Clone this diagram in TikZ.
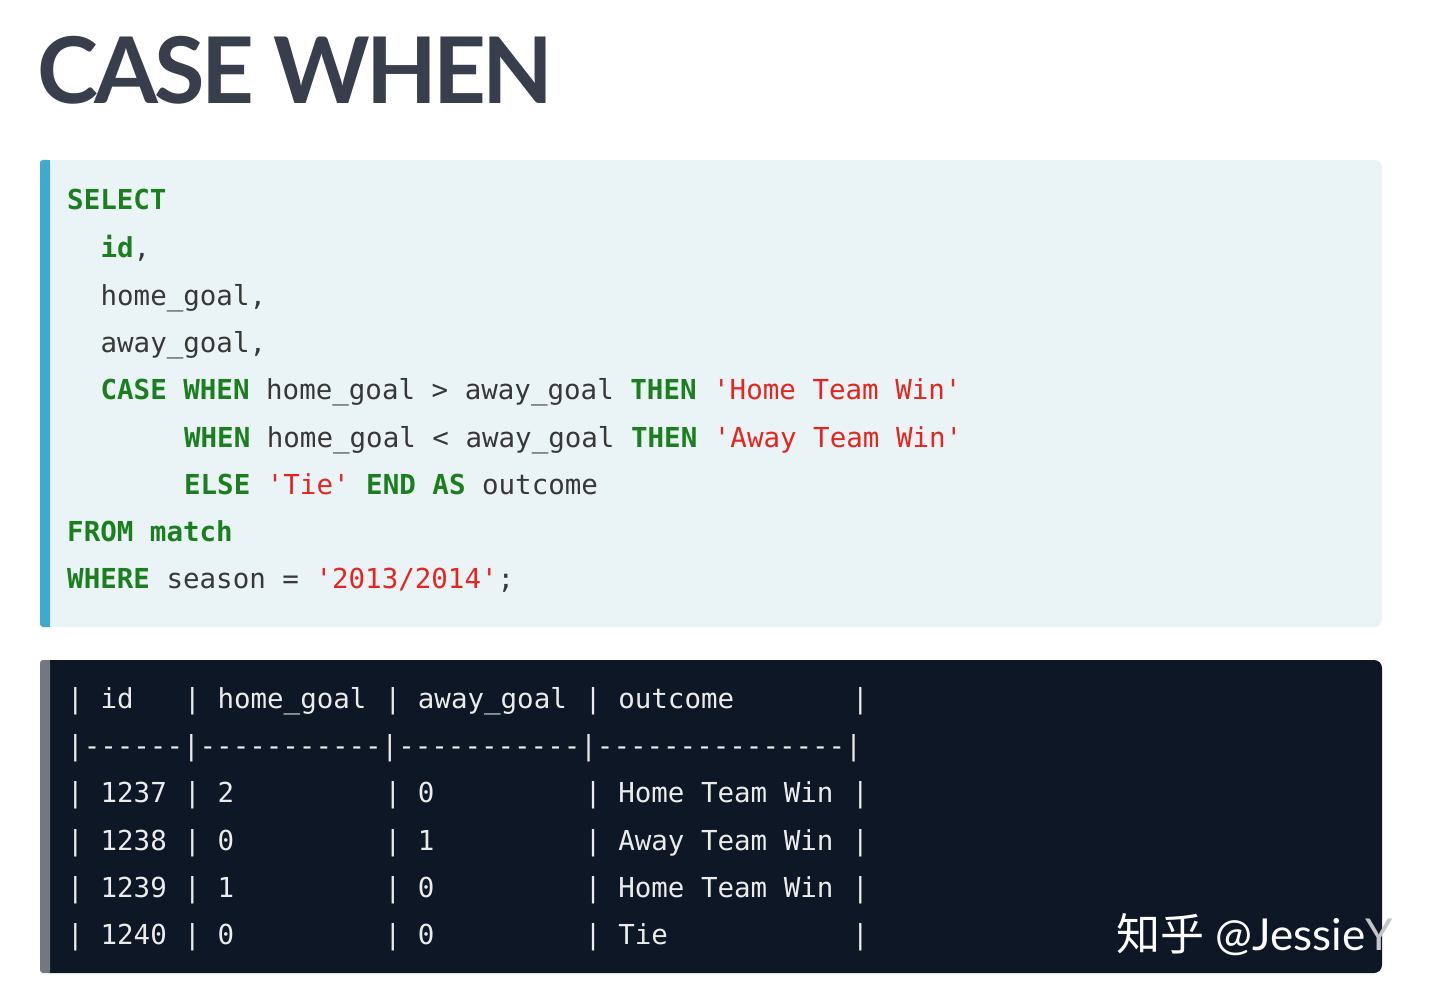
\documentclass[tikz,border=0pt]{standalone}
\usepackage{fontspec}
\setmainfont{Lato}
\setmonofont{DejaVu Sans Mono}
\newfontfamily\cjk{Noto Sans CJK SC}
\definecolor{kw}{HTML}{1B7F1F}
\definecolor{st}{HTML}{E3261F}
\definecolor{tx}{HTML}{383838}
\definecolor{ttl}{HTML}{383E4C}
\definecolor{codebg}{HTML}{EAF3F6}
\definecolor{codebar}{HTML}{41A9CB}
\definecolor{darkbg}{HTML}{0E1726}
\definecolor{darkbar}{HTML}{737880}
\newcommand{\K}[1]{\textcolor{kw}{\bfseries #1}}
\newcommand{\Str}[1]{\textcolor{st}{#1}}
\tikzset{codeln/.style={anchor=base west,inner sep=0pt,font=\fontsize{27.5}{30}\ttfamily,text=tx},
tabln/.style={codeln,text=white!92!black}}
\begin{document}
\begin{tikzpicture}[x=1pt,y=-1pt]
\useasboundingbox (0,0) rectangle (1440,995);
\fill[white] (0,0) rectangle (1440,995);
\node[anchor=base west,inner sep=0pt,font=\fontsize{92}{96}\selectfont\bfseries\addfontfeatures{LetterSpace=-4},text=ttl] (title) at (37,104) {CASE WHEN};
% code box
\fill[codebg,rounded corners=8pt] (40,160) rectangle (1382,627);
\fill[codebar,rounded corners=3pt] (40,160) rectangle (50,627);
\fill[codebar] (45,160) rectangle (50,627);
\def\cw{16.7}
\node[codeln] (l1) at (67,210) {\K{SELECT}};
\node[codeln] (l2) at (67+2*\cw,257) {\K{id},};
\node[codeln] (l3) at (67+2*\cw,305) {home\_goal,};
\node[codeln] (l4) at (67+2*\cw,352) {away\_goal,};
\node[codeln] (l5) at (67+2*\cw,399) {\K{CASE}\ \K{WHEN}\ home\_goal\ >\ away\_goal\ \K{THEN}\ \Str{'Home\ Team\ Win'}};
\node[codeln] (l6) at (67+7*\cw,447) {\K{WHEN}\ home\_goal\ <\ away\_goal\ \K{THEN}\ \Str{'Away\ Team\ Win'}};
\node[codeln] (l7) at (67+7*\cw,494) {\K{ELSE}\ \Str{'Tie'}\ \K{END}\ \K{AS}\ outcome};
\node[codeln] (l8) at (67,541) {\K{FROM}\ \K{match}};
\node[codeln] (l9) at (67,588) {\K{WHERE}\ season\ =\ \Str{'2013/2014'};};
% table box
\fill[darkbg,rounded corners=8pt] (40,660) rectangle (1382,973);
\fill[darkbar,rounded corners=3pt] (40,660) rectangle (50,973);
\fill[darkbar] (45,660) rectangle (50,973);
\foreach \r/\y/\a/\b/\c/\d in {0/708/id/home\_goal/away\_goal/outcome,
  2/802/1237/2/0/Home Team Win, 3/850/1238/0/1/Away Team Win,
  4/897/1239/1/0/Home Team Win, 5/944/1240/0/0/Tie}{
  \foreach \cc in {0,7,19,31,47}{\node[tabln] (p\r-\cc) at (67+\cc*\cw,\y) {|};}
  \node[tabln] (a\r) at (67+2*\cw,\y) {\a};
  \node[tabln] (b\r) at (67+9*\cw,\y) {\b};
  \node[tabln] (c\r) at (67+21*\cw,\y) {\c};
  \node[tabln] (d\r) at (67+33*\cw,\y) {\d};
}
\node[tabln] (sep) at (67,755) {|------|-----------|-----------|---------------|};
\node[anchor=base west,inner sep=0pt,font=\fontsize{44}{48}\selectfont,text=white] (wm) at (1116,950) {{\cjk 知乎}\ @Jessie\textcolor{white!75!darkbg}{Y}};
\end{tikzpicture}
\end{document}
